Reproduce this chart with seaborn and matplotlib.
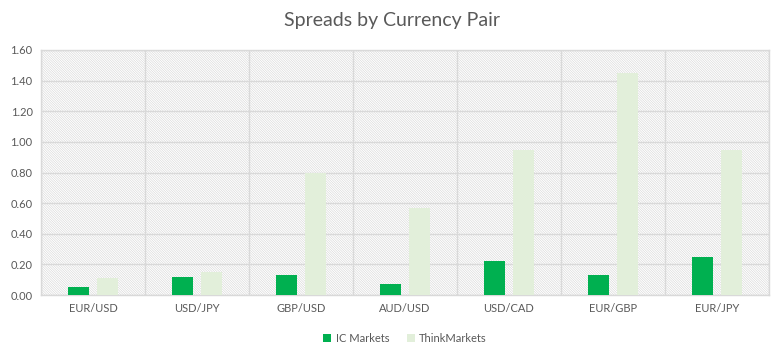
import numpy as np
import pandas as pd
import matplotlib
matplotlib.use("Agg")
import matplotlib.pyplot as plt
from matplotlib.ticker import FixedLocator, FormatStrFormatter
import seaborn as sns

# data
pairs = ["EUR/USD", "USD/JPY", "GBP/USD", "AUD/USD", "USD/CAD", "EUR/GBP", "EUR/JPY"]
ic_markets = [0.05, 0.12, 0.13, 0.07, 0.22, 0.13, 0.25]
think_markets = [0.11, 0.15, 0.80, 0.57, 0.95, 1.45, 0.95]
brokers = ["IC Markets", "ThinkMarkets"]
colors = ["#00B050", "#E2EFDA"]

df = pd.DataFrame({
    "pair": pairs * 2,
    "spread": ic_markets + think_markets,
    "broker": [brokers[0]] * len(pairs) + [brokers[1]] * len(pairs),
})

sns.set_theme(style="white")
plt.rcParams["font.family"] = ["Lato", "DejaVu Sans"]
plt.rcParams["hatch.linewidth"] = 0.4
plt.rcParams["hatch.color"] = "#D4D4D4"

fig = plt.figure(figsize=(7.83, 3.55), dpi=100)
ax = fig.add_axes([41 / 783, 1 - 295 / 355, 728 / 783, 245 / 355])

# hatched plot area like the excel pattern fill
ax.patch.set_facecolor("white")
ax.patch.set_hatch("\\" * 14)
ax.patch.set_edgecolor("#D4D4D4")

sns.barplot(data=df, x="pair", y="spread", hue="broker", palette=colors,
            width=0.55, gap=0.27, ax=ax, saturation=1, legend=True,
            linewidth=0, zorder=3)

ax.set_ylim(0, 1.6)
ax.set_xlim(-0.5, len(pairs) - 0.5)
ax.yaxis.set_major_locator(FixedLocator(np.arange(0, 1.61, 0.2)))
ax.yaxis.set_major_formatter(FormatStrFormatter("%.2f"))
ax.xaxis.set_minor_locator(FixedLocator(np.arange(-0.5, len(pairs), 1)))
ax.grid(axis="y", which="major", color="#D9D9D9", lw=1, zorder=1)
ax.grid(axis="x", which="minor", color="#D9D9D9", lw=1, zorder=1)
ax.set_axisbelow(True)
ax.tick_params(axis="both", which="both", length=0, labelsize=8, labelcolor="#595959")
ax.tick_params(axis="x", pad=6)
ax.tick_params(axis="y", pad=6)
ax.set_xlabel("")
ax.set_ylabel("")
for s in ax.spines.values():
    s.set_color("#D9D9D9")
    s.set_linewidth(1)

fig.suptitle("Spreads by Currency Pair", x=0.5, y=0.965, fontsize=14, color="#595959")

leg = ax.legend(loc="upper center", bbox_to_anchor=(0.5, -0.115), ncol=2, frameon=False,
                fontsize=8, handlelength=0.7, handleheight=0.7, handletextpad=0.4,
                columnspacing=1.6, labelcolor="#595959")

fig.savefig("out.png", dpi=100)
